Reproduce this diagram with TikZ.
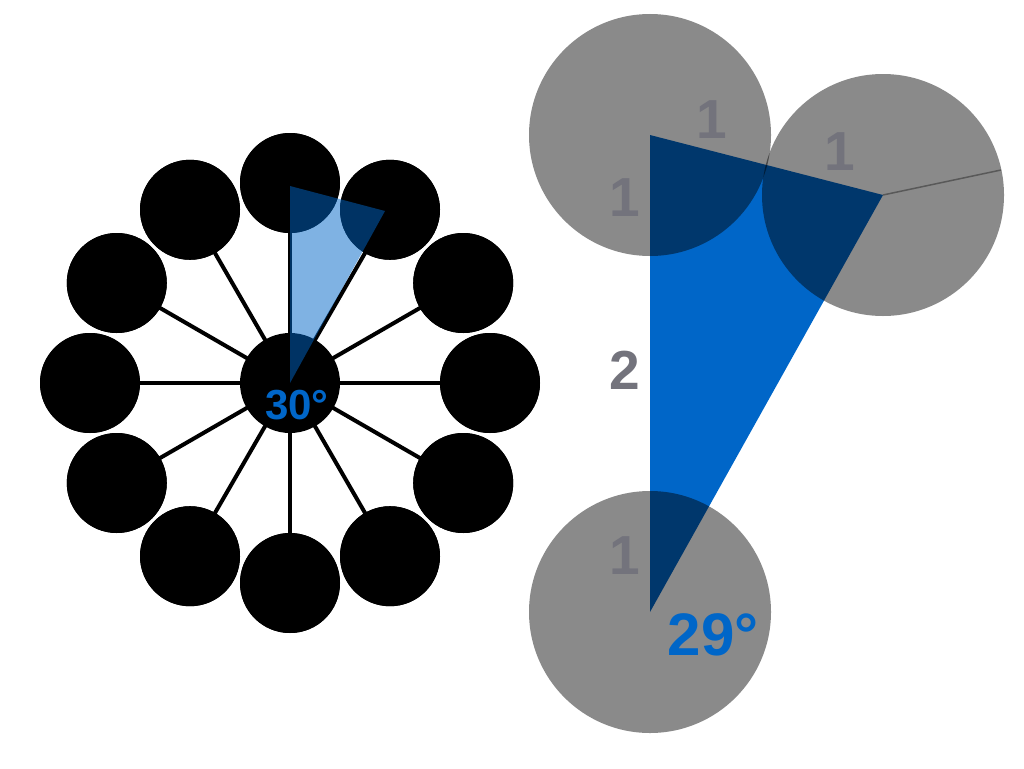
\documentclass[tikz,border=0pt]{standalone}
\usepackage{fontspec}
\setmainfont{Liberation Sans}
\usetikzlibrary{calc}
\begin{document}
\begin{tikzpicture}[x=1pt,y=-1pt,
  dot/.style={circle,fill=black,minimum size=100pt,inner sep=0pt},
  gc/.style={circle,fill=black,fill opacity=0.46,minimum size=242pt,inner sep=0pt},
  lab/.style={text=black!65!blue!10!gray,font=\bfseries\fontsize{55}{55}\selectfont},
  blu/.style={text={rgb,255:red,0;green,102;blue,200},font=\bfseries}]
\useasboundingbox (0,0) rectangle (1024,768);
\definecolor{tri}{RGB}{0,102,200}
% left
\coordinate (c) at (290,383);
\foreach \i in {0,...,11}{
  \node[dot] (o\i) at ($(c)+(90+\i*30:-200)$) {};
}
\foreach \i in {0,...,11}{ \draw[line width=4pt] (c) -- (o\i.center); }
\node[dot] (cc) at (c) {};
\foreach \i in {0,...,11}{ \node[dot] at (o\i) {}; }
\coordinate (t1) at (290,186);
\coordinate (t2) at (385,211);
\fill[tri,fill opacity=0.5] (c) -- (t1) -- (t2) -- cycle;
\node[blu,font=\bfseries\fontsize{42}{42}\selectfont] (a30) at (297,405) {30°};
% right
\coordinate (p1) at (650,135);
\coordinate (p2) at (883,195);
\coordinate (p3) at (650,612);
\fill[tri] (p1) -- (p2) -- (p3) -- cycle;
\node[gc] (g1) at (p1) {};
\node[gc] (g2) at (p2) {};
\node[gc] (g3) at (p3) {};
\coordinate (r) at (1001,170);
\draw[line width=1.5pt,black!65] (p2) -- (r);
\node[lab] (l1) at (712,120) {1};
\node[lab] (l2) at (840,152) {1};
\node[lab] (l3) at (625,198) {1};
\node[lab] (l4) at (625,556) {1};
\node[lab] (l5) at (625,370) {2};
\node[blu,font=\bfseries\fontsize{60}{60}\selectfont] (a29) at (713,635) {29°};
\end{tikzpicture}
\end{document}
